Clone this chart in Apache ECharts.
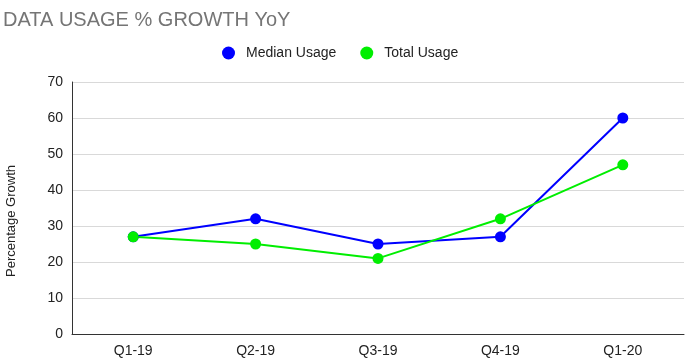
<!DOCTYPE html>
<html>
<head>
  <meta charset="utf-8">
</head>
<body style="margin: 0; width: 685px; height: 358px; background: #fff;">
  <div id="container" style="width: 685px; height: 358px;"></div>
  <script type="text/javascript" src="https://cdn.jsdelivr.net/npm/echarts@6/dist/echarts.min.js"></script>
  <script type="text/javascript">
    // data
    var quarters = ['Q1-19', 'Q2-19', 'Q3-19', 'Q4-19', 'Q1-20'];
    var medianUsage = [27, 32, 25, 27, 60];
    var totalUsage = [27, 25, 21, 32, 47];

    var chart = echarts.init(document.getElementById('container'), null, { renderer: 'canvas' });

    var font = 'Liberation Sans, Arial, sans-serif';

    var option = {
      animation: false,
      backgroundColor: '#fff',
      title: {
        text: 'DATA USAGE % GROWTH YoY',
        left: -2,
        top: 5,
        textStyle: {
          color: '#757575',
          fontSize: 20,
          fontWeight: 'normal',
          fontFamily: font
        }
      },
      legend: {
        top: 41,
        left: 217,
        itemWidth: 13,
        itemHeight: 13,
        itemGap: 24,
        icon: 'circle',
        textStyle: {
          color: '#222',
          fontSize: 14,
          fontFamily: font,
          padding: [0, 0, 0, 6]
        },
        data: ['Median Usage', 'Total Usage']
      },
      grid: {
        left: 72,
        right: 1,
        top: 82,
        bottom: 24,
        containLabel: false,
        outerBoundsMode: 'none'
      },
      xAxis: {
        type: 'category',
        data: quarters,
        boundaryGap: true,
        axisLine: { lineStyle: { color: '#333', width: 1 } },
        axisTick: { show: false },
        axisLabel: {
          color: '#222',
          fontSize: 14,
          fontFamily: font,
          margin: 10
        }
      },
      yAxis: {
        type: 'value',
        min: 0,
        max: 70,
        interval: 10,
        name: 'Percentage Growth',
        nameLocation: 'middle',
        nameGap: 54,
        nameRotate: 90,
        nameTextStyle: {
          color: '#222',
          fontSize: 13,
          fontFamily: font,
          padding: [0, 26, 0, 0]
        },
        axisLine: { show: true, lineStyle: { color: '#333', width: 1 } },
        axisTick: { show: false },
        axisLabel: {
          color: '#222',
          fontSize: 14,
          fontFamily: font,
          margin: 9
        },
        splitLine: { lineStyle: { color: '#d9d9d9', width: 1 } }
      },
      series: [{
        name: 'Median Usage',
        type: 'line',
        data: medianUsage,
        symbol: 'circle',
        symbolSize: 11,
        lineStyle: { color: '#0000ff', width: 2 },
        itemStyle: { color: '#0000ff' }
      }, {
        name: 'Total Usage',
        type: 'line',
        data: totalUsage,
        symbol: 'circle',
        symbolSize: 11,
        lineStyle: { color: '#00ee00', width: 2 },
        itemStyle: { color: '#00ee00' }
      }]
    };

    chart.setOption(option);
  </script>
</body>
</html>
